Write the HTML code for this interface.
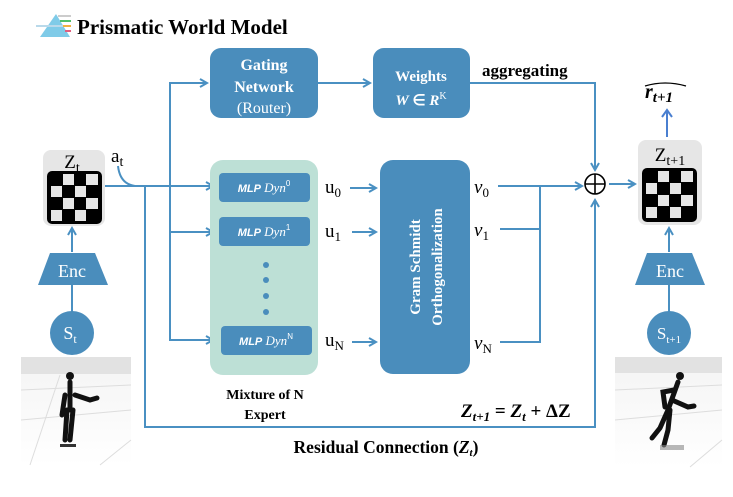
<!DOCTYPE html>
<html><head><meta charset="utf-8"><style>
html,body{margin:0;padding:0;background:#fff;}
svg{display:block;}
.s{font-family:"Liberation Serif",serif;}
</style></head><body>
<svg width="733" height="497" viewBox="0 0 733 497" xmlns="http://www.w3.org/2000/svg">
<defs>
<marker id="ar" markerWidth="10" markerHeight="10" refX="8" refY="5" orient="auto" markerUnits="userSpaceOnUse">
<path d="M1,1 L8,5 L1,9" fill="none" stroke="#4a90c2" stroke-width="2"/>
</marker>
<linearGradient id="fl" x1="0" y1="0" x2="0" y2="1"><stop offset="0" stop-color="#f4f4f4"/><stop offset="1" stop-color="#fff"/></linearGradient>
</defs>
<!-- title -->
<polygon points="40,37 56,14 70,37" fill="#7fcbe8"/>
<line x1="36" y1="26" x2="70" y2="26" stroke="#b9d9ea" stroke-width="2"/>
<line x1="58" y1="16" x2="71" y2="16" stroke="#ccc" stroke-width="2"/>
<line x1="60" y1="21" x2="71" y2="21" stroke="#4fbf6a" stroke-width="2"/>
<line x1="63" y1="26" x2="71" y2="26" stroke="#f0b040" stroke-width="2"/>
<line x1="65" y1="31" x2="71" y2="31" stroke="#e06080" stroke-width="2"/>
<text x="77" y="34" class="s" font-size="21" font-weight="bold">Prismatic World Model</text>

<g fill="none" stroke="#4a90c2" stroke-width="2">
<line x1="105" y1="186" x2="213" y2="186" marker-end="url(#ar)"/>
<path d="M118,166 Q120,184 135,186"/>
<path d="M170,232 L170,83 L207,83" marker-end="url(#ar)"/>
<line x1="170" y1="232" x2="213" y2="232" marker-end="url(#ar)"/>
<path d="M170,232 L170,340 L213,340" marker-end="url(#ar)"/>
<path d="M145,186 L145,427 L595,427 L595,200" marker-end="url(#ar)"/>
<line x1="318" y1="83" x2="370" y2="83" marker-end="url(#ar)"/>
<path d="M470,83 L595,83 L595,170" marker-end="url(#ar)"/>
<line x1="350" y1="188" x2="376" y2="188" marker-end="url(#ar)"/>
<line x1="352" y1="232" x2="376" y2="232" marker-end="url(#ar)"/>
<line x1="352" y1="342" x2="376" y2="342" marker-end="url(#ar)"/>
<line x1="498" y1="186" x2="582" y2="186" marker-end="url(#ar)"/>
<line x1="500" y1="229" x2="540" y2="229"/>
<path d="M500,342 L540,342 L540,186"/>
<line x1="609" y1="184" x2="635" y2="184" marker-end="url(#ar)"/>
<line x1="72" y1="312" x2="72" y2="285"/>
<line x1="72" y1="252" x2="72" y2="228" marker-end="url(#ar)"/>
<line x1="669" y1="312" x2="669" y2="285"/>
<line x1="669" y1="252" x2="669" y2="228" marker-end="url(#ar)"/>
</g>
<line x1="667" y1="137" x2="667" y2="112" stroke="#4a7fd0" stroke-width="2"/>
<path d="M662,117 L667,110 L672,117" fill="none" stroke="#4a7fd0" stroke-width="2"/>

<rect x="210" y="48" width="108" height="70" rx="11" fill="#4a8dbc"/>
<text x="264" y="70" class="s" font-size="16" font-weight="bold" fill="#fff" text-anchor="middle">Gating</text>
<text x="264" y="92" class="s" font-size="16" font-weight="bold" fill="#fff" text-anchor="middle">Network</text>
<text x="264" y="113" class="s" font-size="16" fill="#fff" text-anchor="middle">(Router)</text>
<rect x="373" y="48" width="97" height="70" rx="11" fill="#4a8dbc"/>
<text x="421" y="81" class="s" font-size="15" font-weight="bold" fill="#fff" text-anchor="middle">Weights</text>
<text x="421" y="105" class="s" font-size="15" font-weight="bold" fill="#fff" text-anchor="middle"><tspan font-style="italic">W</tspan> ∈ <tspan font-style="italic">R</tspan><tspan font-size="10" dy="-6" font-weight="normal">K</tspan></text>
<text x="482" y="76" class="s" font-size="17" font-weight="bold">aggregating</text>

<rect x="210" y="160" width="108" height="215" rx="13" fill="#bde0d6"/>
<g font-family="Liberation Sans,sans-serif" fill="#fff" font-size="11">
<rect x="219" y="173" width="91" height="29" rx="4" fill="#4a8dbc"/>
<text x="264" y="192" text-anchor="middle"><tspan font-weight="bold" font-style="italic">MLP</tspan><tspan font-family="Liberation Serif,serif" font-style="italic" font-size="13"> Dyn</tspan><tspan font-size="8" dy="-6">0</tspan></text>
<rect x="219" y="217" width="91" height="29" rx="4" fill="#4a8dbc"/>
<text x="264" y="236" text-anchor="middle"><tspan font-weight="bold" font-style="italic">MLP</tspan><tspan font-family="Liberation Serif,serif" font-style="italic" font-size="13"> Dyn</tspan><tspan font-size="8" dy="-6">1</tspan></text>
<rect x="221" y="326" width="91" height="29" rx="4" fill="#4a8dbc"/>
<text x="266" y="345" text-anchor="middle"><tspan font-weight="bold" font-style="italic">MLP</tspan><tspan font-family="Liberation Serif,serif" font-style="italic" font-size="13"> Dyn</tspan><tspan font-size="8" dy="-6">N</tspan></text>
</g>
<g fill="#4a8dbc"><circle cx="266" cy="265" r="3"/><circle cx="266" cy="280" r="3"/><circle cx="266" cy="296" r="3"/><circle cx="266" cy="312" r="3"/></g>
<text x="265" y="399" class="s" font-size="14" font-weight="bold" text-anchor="middle">Mixture of N</text>
<text x="265" y="419" class="s" font-size="14" font-weight="bold" text-anchor="middle">Expert</text>

<g class="s" font-size="19">
<text x="325" y="193">u<tspan font-size="13" dy="4">0</tspan></text>
<text x="325" y="237">u<tspan font-size="13" dy="4">1</tspan></text>
<text x="325" y="346">u<tspan font-size="13" dy="4">N</tspan></text>
<text x="474" y="193" font-style="italic">v<tspan font-size="13" dy="4" font-style="normal">0</tspan></text>
<text x="474" y="236" font-style="italic">v<tspan font-size="13" dy="4" font-style="normal">1</tspan></text>
<text x="474" y="349" font-style="italic">v<tspan font-size="13" dy="4" font-style="normal">N</tspan></text>
</g>

<rect x="380" y="160" width="90" height="214" rx="13" fill="#4a8dbc"/>
<g transform="translate(425,267) rotate(-90)" class="s" font-size="15" font-weight="bold" fill="#fff" text-anchor="middle">
<text x="0" y="-5">Gram Schmidt</text>
<text x="0" y="17">Orthogonalization</text>
</g>

<circle cx="595" cy="184" r="10" fill="none" stroke="#000" stroke-width="1.6"/>
<line x1="585" y1="184" x2="605" y2="184" stroke="#000" stroke-width="1.6"/>
<line x1="595" y1="174" x2="595" y2="194" stroke="#000" stroke-width="1.6"/>

<text x="461" y="417" class="s" font-size="19" font-weight="bold" font-style="italic">Z<tspan font-size="13" dy="4">t+1</tspan><tspan dy="-4" font-style="normal"> = </tspan>Z<tspan font-size="13" dy="4">t</tspan><tspan dy="-4" font-style="normal"> +  ΔZ</tspan></text>
<text x="386" y="453" class="s" font-size="17.5" font-weight="bold" text-anchor="middle">Residual Connection (<tspan font-style="italic">Z<tspan font-size="11" dy="3">t</tspan></tspan><tspan dy="-3">)</tspan></text>

<rect x="43" y="150" width="62" height="76" rx="8" fill="#e6e6e6"/>
<text x="72" y="168" class="s" font-size="19" text-anchor="middle">Z<tspan font-size="14" dy="4">t</tspan></text>
<g transform="translate(47,171)">
<rect width="55" height="53" rx="5" fill="#000"/>
<g fill="#e6e6e6">
<rect x="16" y="3" width="11" height="11"/><rect x="39" y="3" width="12" height="11"/>
<rect x="4" y="15" width="11" height="11"/><rect x="28" y="15" width="11" height="11"/>
<rect x="16" y="27" width="11" height="11"/><rect x="39" y="27" width="12" height="11"/>
<rect x="4" y="39" width="11" height="11"/><rect x="28" y="39" width="11" height="11"/>
</g></g>
<text x="111" y="162" class="s" font-size="19">a<tspan font-size="14" dy="4">t</tspan></text>

<rect x="638" y="140" width="64" height="85" rx="8" fill="#e6e6e6"/>
<text x="670" y="161" class="s" font-size="19" text-anchor="middle">Z<tspan font-size="14" dy="4">t+1</tspan></text>
<g transform="translate(642,168)">
<rect width="55" height="54" rx="5" fill="#000"/>
<g fill="#e6e6e6">
<rect x="16" y="3" width="11" height="11"/><rect x="39" y="3" width="12" height="11"/>
<rect x="4" y="15" width="11" height="11"/><rect x="28" y="15" width="11" height="11"/>
<rect x="16" y="27" width="11" height="11"/><rect x="39" y="27" width="12" height="11"/>
<rect x="4" y="39" width="11" height="11"/><rect x="28" y="39" width="11" height="11"/>
</g></g>
<text x="645" y="98" class="s" font-size="20" font-weight="bold" font-style="italic">r<tspan font-size="15" dy="4">t+1</tspan></text>
<path d="M645,86 Q665,80 686,86" fill="none" stroke="#000" stroke-width="1.3"/>

<polygon points="50,253 95,253 108,285 38,285" fill="#4a8dbc"/>
<text x="72" y="277" class="s" font-size="18" fill="#fff" text-anchor="middle">Enc</text>
<polygon points="647,253 692,253 705,285 635,285" fill="#4a8dbc"/>
<text x="670" y="277" class="s" font-size="18" fill="#fff" text-anchor="middle">Enc</text>
<circle cx="72" cy="333" r="22" fill="#4a8dbc"/>
<text x="70" y="339" class="s" font-size="18" fill="#fff" text-anchor="middle">S<tspan font-size="12" dy="4">t</tspan></text>
<circle cx="669" cy="333" r="22" fill="#4a8dbc"/>
<text x="669" y="339" class="s" font-size="17" fill="#fff" text-anchor="middle">S<tspan font-size="11" dy="4">t+1</tspan></text>

<rect x="21" y="357" width="110" height="108" fill="url(#fl)"/>
<rect x="21" y="357" width="110" height="17" fill="#e2e2e2"/>
<g stroke="#ddd" stroke-width="1"><line x1="21" y1="390" x2="131" y2="385"/><line x1="21" y1="420" x2="131" y2="410"/><line x1="30" y1="465" x2="60" y2="375"/><line x1="100" y1="465" x2="131" y2="440"/></g>
<g stroke="#111" stroke-width="5" stroke-linecap="round" fill="none">
<line x1="70" y1="382" x2="70" y2="410"/><line x1="67" y1="410" x2="65" y2="440"/><line x1="73" y1="410" x2="70" y2="440"/>
<path d="M75,395 L90,400 L97,398"/><line x1="65" y1="395" x2="62" y2="415"/></g>
<circle cx="70" cy="376" r="4" fill="#111"/>
<rect x="60" y="444" width="16" height="3" fill="#333"/>
<rect x="615" y="357" width="107" height="110" fill="url(#fl)"/>
<rect x="615" y="357" width="107" height="16" fill="#e2e2e2"/>
<g stroke="#ddd" stroke-width="1"><line x1="615" y1="390" x2="722" y2="385"/><line x1="615" y1="420" x2="722" y2="410"/><line x1="690" y1="467" x2="722" y2="440"/></g>
<g stroke="#111" stroke-width="5" stroke-linecap="round" fill="none">
<line x1="678" y1="382" x2="668" y2="410"/><path d="M668,410 L660,428 L652,438"/><path d="M670,410 L668,430 L664,445"/>
<path d="M672,400 L688,407 L694,406"/><path d="M674,390 L663,392 L665,407"/></g>
<circle cx="680" cy="376" r="4" fill="#111"/>
<rect x="660" y="445" width="24" height="5" fill="#888" opacity="0.6"/>
</svg>
</body></html>
